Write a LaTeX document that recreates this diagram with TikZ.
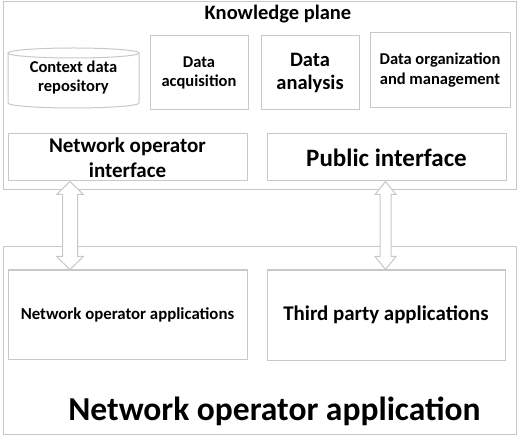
\documentclass[tikz,border=0pt]{standalone}
\usepackage{fontspec}
\setmainfont{Carlito}
\usetikzlibrary{calc}
\definecolor{edge}{RGB}{200,200,200}
\tikzset{
  box/.style={draw=edge, line width=1pt, fill=white, inner sep=0pt, align=center, font=\bfseries},
  lbl/.style={inner sep=0pt, align=center, font=\bfseries},
  arr/.style={draw=edge, line width=1pt, fill=white, line join=miter},
  shape cyl/.style={draw=edge, line width=1pt},
}
\newcommand\fs[2]{\fontsize{#1}{#2}\selectfont}
\newcommand\dblarr[4]{%
  \draw[arr] (#1) -- ++(#4,13) -- ++({#3-#4},0) -- ($(#2)+(#3,-13)$) -- ++({#4-#3},0)
    -- (#2) -- ++(-#4,-13) -- ++({#4-#3},0) -- ($(#1)+(-#3,13)$) -- ++({#3-#4},0) -- cycle;}
\begin{document}
\begin{tikzpicture}[x=1pt,y=-1pt]
\useasboundingbox[fill=white] (0,0) rectangle (519,438);
% outer frames
\node[box, minimum width=513pt, minimum height=188pt] (kp) at (259.5,96) {};
\node[box, minimum width=513pt, minimum height=187pt] (nop) at (259.5,340.5) {};
\node[lbl, anchor=base, font=\bfseries\fs{20.5}{24}] (kpt) at (278,20) {Knowledge plane};
% cylinder
\draw[shape cyl, fill=white] (8,53) -- (8,103) arc[start angle=180, end angle=360, x radius=65.5pt, y radius=5pt] -- (139,53);
\draw[shape cyl] (73.5,53) ellipse[x radius=65.5pt, y radius=5pt];
\node[lbl, font=\bfseries\fs{16.5}{19}] (cdr) at (73.5,78) {Context data\\repository};
% inner boxes
\node[box, minimum width=98pt, minimum height=74pt, font=\bfseries\fs{16.5}{19}] (acq) at (199,73) {Data\\acquisition};
\node[box, minimum width=98pt, minimum height=74pt, font=\bfseries\fs{20.5}{23}] (ana) at (310,73) {Data\\analysis};
\node[box, minimum width=140pt, minimum height=75pt, font=\bfseries\fs{16.5}{20}] (org) at (440,70.5) {Data organization\\and management};
\node[box, minimum width=239pt, minimum height=47pt, font=\bfseries\fs{21}{25}] (noi) at (127.5,157.5) {Network operator\\interface};
\node[box, minimum width=239pt, minimum height=47pt, font=\bfseries\fs{25}{28}] (pub) at (386.5,157.5) {Public interface};
\node[box, minimum width=239pt, minimum height=89pt, font=\bfseries\fs{16.8}{20}] (noa) at (127.5,314.5) {Network operator applications};
\node[box, minimum width=238pt, minimum height=90pt, font=\bfseries\fs{20.9}{24}] (tpa) at (386,315) {Third party applications};
\node[lbl, anchor=base, font=\bfseries\fs{33.5}{38}] (big) at (274.5,420) {Network operator application};
% double arrows
\coordinate (l1) at ([xshift=-57.5pt]noi.south);
\coordinate (l2) at (l1 |- noa.north);
\coordinate (r1) at ([xshift=-1pt]pub.south);
\coordinate (r2) at (r1 |- tpa.north);
\dblarr{l1}{l2}{7.5}{13.5}
\dblarr{r1}{r2}{5.5}{10.5}
\end{tikzpicture}
\end{document}
